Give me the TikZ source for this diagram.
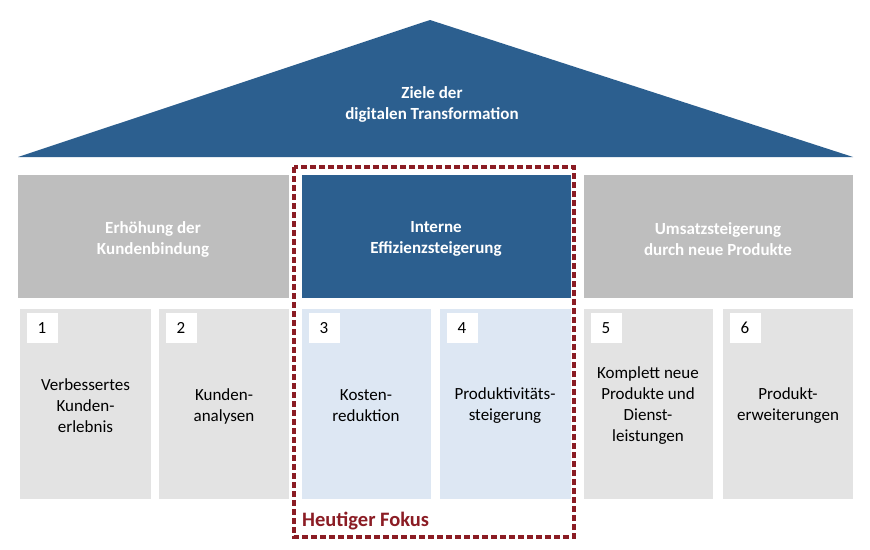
\documentclass[tikz,border=0pt]{standalone}
\usepackage{fontspec}
\setmainfont{Carlito}
\definecolor{dblue}{HTML}{2C5F8F}
\definecolor{pgray}{HTML}{BEBEBE}
\definecolor{lgray}{HTML}{E3E3E3}
\definecolor{lblue}{HTML}{DDE7F3}
\definecolor{dred}{HTML}{8B1C24}
\begin{document}
\begin{tikzpicture}[x=1pt,y=-1pt,
  pillar/.style={inner sep=0pt,text=white,font=\bfseries\fontsize{17}{21}\selectfont,align=center},
  boxtxt/.style={font=\fontsize{17}{21}\selectfont,align=center},
  numbox/.style={fill=white,minimum width=31pt,minimum height=30pt,inner sep=0pt,font=\fontsize{17}{20}\selectfont}]
\useasboundingbox (0,0) rectangle (870,549);
\fill[white] (0,0) rectangle (870,549);
\fill[dblue] (18,157) -- (430,20) -- (853,157) -- cycle;
\node[pillar] (roof) at (432,104) {Ziele der\\digitalen Transformation};
\fill[pgray] (18,175) rectangle (289,298);
\fill[dblue] (302,175) rectangle (571,298);
\fill[pgray] (584,175) rectangle (853,298);
\node[pillar] (p1) at (153,239) {Erhöhung der\\Kundenbindung};
\node[pillar] (p2) at (436,239) {Interne\\Effizienzsteigerung};
\node[pillar] (p3) at (718,239) {Umsatzsteigerung\\durch neue Produkte};
\foreach \n/\a/\b/\c in {1/20/151/lgray,2/159/289/lgray,3/302/431/lblue,4/440/571/lblue,5/584/713/lgray,6/723/853/lgray}{
  \fill[\c] (\a,309) rectangle (\b,499);
  \node[numbox] (n\n) at (\a+22,328) {\n};
}
\node[boxtxt] (t1) at (85.5,406) {Verbessertes\\Kunden-\\erlebnis};
\node[boxtxt] (t2) at (224,406) {Kunden-\\analysen};
\node[boxtxt] (t3) at (366,406) {Kosten-\\reduktion};
\node[boxtxt] (t4) at (505,406) {Produktivitäts-\\steigerung};
\node[boxtxt] (t5) at (648,406) {Komplett neue\\Produkte und\\Dienst-\\leistungen};
\node[boxtxt] (t6) at (788,406) {Produkt-\\erweiterungen};
\draw[dred,line width=3.2pt,dash pattern=on 6pt off 3pt] (294,167) rectangle (574,537);
\node[anchor=west,text=dred,font=\bfseries\fontsize{20.5}{24}\selectfont,inner sep=0pt] (fokus) at (302,521) {Heutiger Fokus};
\end{tikzpicture}
\end{document}
